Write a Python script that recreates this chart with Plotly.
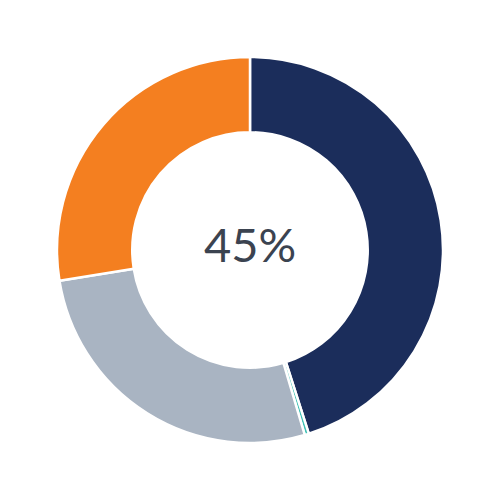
import plotly.graph_objects as go

labels = ["A", "B", "C", "D"]
values = [45, 0.35, 27, 27.5]
colors = ["#1b2d5b", "#3ec1b5", "#a9b4c2", "#f47f20"]
center_text = "45%"

fig = go.Figure(
    go.Pie(
        labels=labels,
        values=values,
        hole=0.61,
        sort=False,
        direction="clockwise",
        rotation=0,
        textinfo="none",
        hoverinfo="label+percent",
        marker=dict(colors=colors, line=dict(color="white", width=2.5)),
        showlegend=False,
    )
)

fig.add_annotation(
    text=center_text, x=0.5, y=0.5, xref="paper", yref="paper",
    showarrow=False, yshift=6,
    font=dict(family="Lato", size=47, color="#3b4350"),
)

# page body adds 8px, so the margins are shifted to keep the ring centred
fig.update_layout(
    width=500, height=500,
    margin=dict(l=49, r=65, t=49, b=65),
    paper_bgcolor="white", plot_bgcolor="white",
)

fig.write_html("out.html")
